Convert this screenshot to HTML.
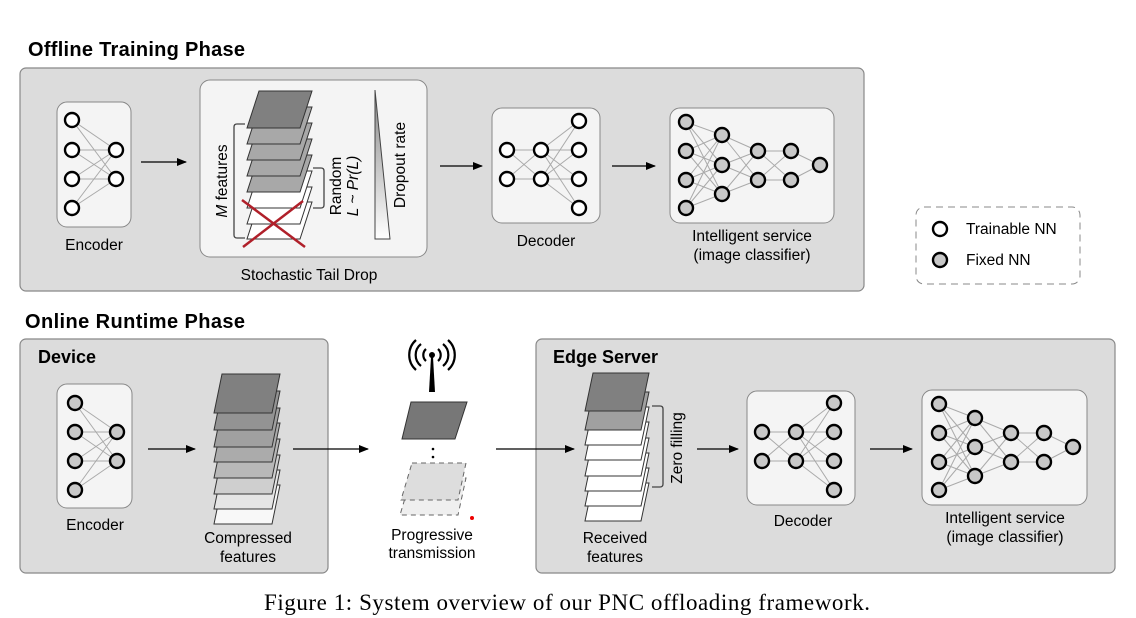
<!DOCTYPE html>
<html><head><meta charset="utf-8"><style>
html,body{margin:0;padding:0;background:#fff;}
svg{display:block;font-family:"Liberation Sans",Arial,sans-serif;}
</style></head><body>
<svg id="s" width="1136" height="618" viewBox="0 0 1136 618" xmlns="http://www.w3.org/2000/svg">
<defs>
<marker id="ah" markerWidth="10" markerHeight="8" refX="9" refY="4" orient="auto" markerUnits="userSpaceOnUse"><path d="M0,0 L10,4 L0,8 z" fill="#000"/></marker>
<linearGradient id="dg" x1="0" y1="0" x2="0" y2="1"><stop offset="0" stop-color="#888"/><stop offset="1" stop-color="#fff"/></linearGradient>
</defs>
<text x="28" y="56" font-size="20" font-weight="bold" textLength="217">Offline Training Phase</text>
<rect x="20" y="68" width="844" height="223" rx="6" fill="#dcdcdc" stroke="#888" stroke-width="1.2"/>
<rect x="57" y="102" width="74" height="125" rx="10" fill="#f4f4f4" stroke="#888"/>
<text x="94" y="250" font-size="15.5" text-anchor="middle">Encoder</text>
<line x1="141" y1="162" x2="186" y2="162" stroke="#000" stroke-width="1.3" marker-end="url(#ah)"/>
<rect x="200" y="80" width="227" height="177" rx="10" fill="#f4f4f4" stroke="#888"/>
<text x="309" y="280" font-size="15.5" text-anchor="middle">Stochastic Tail Drop</text>
<g id="std"></g>
<path d="M245,124 h-8 q-3,0 -3,3 v108 q0,3 3,3 h8" fill="none" stroke="#444" stroke-width="1.3"/>
<text transform="translate(227,181) rotate(-90)" font-size="15.5" text-anchor="middle"><tspan font-style="italic">M</tspan> features</text>
<path d="M313,168 h8 q3,0 3,3 v34 q0,3 -3,3 h-8" fill="none" stroke="#444" stroke-width="1.3"/>
<text transform="translate(341,186) rotate(-90)" font-size="15.5" text-anchor="middle">Random</text>
<text transform="translate(358,186) rotate(-90)" font-size="15.5" text-anchor="middle" font-style="italic">L ~ Pr(L)</text>
<polygon points="375,90 375,239 390,239" fill="url(#dg)" stroke="#444"/>
<text transform="translate(405,165) rotate(-90)" font-size="15.5" text-anchor="middle">Dropout rate</text>
<line x1="440" y1="166" x2="482" y2="166" stroke="#000" stroke-width="1.3" marker-end="url(#ah)"/>
<rect x="492" y="108" width="108" height="115" rx="10" fill="#f4f4f4" stroke="#888"/>
<text x="546" y="246" font-size="15.5" text-anchor="middle">Decoder</text>
<line x1="612" y1="166" x2="655" y2="166" stroke="#000" stroke-width="1.3" marker-end="url(#ah)"/>
<rect x="670" y="108" width="164" height="115" rx="10" fill="#f4f4f4" stroke="#888"/>
<text x="752" y="241" font-size="15.5" text-anchor="middle">Intelligent service</text>
<text x="752" y="260" font-size="15.5" text-anchor="middle">(image classifier)</text>
<rect x="916" y="207" width="164" height="77" rx="8" fill="#fff" stroke="#888" stroke-dasharray="7,5"/>
<circle cx="940" cy="229" r="7" fill="#fff" stroke="#000" stroke-width="2.4"/>
<circle cx="940" cy="260" r="7" fill="#c8c8c8" stroke="#000" stroke-width="2.4"/>
<text x="966" y="234" font-size="15.5">Trainable NN</text>
<text x="966" y="265" font-size="15.5">Fixed NN</text>

<text x="25" y="328" font-size="20" font-weight="bold" textLength="220">Online Runtime Phase</text>
<rect x="20" y="339" width="308" height="234" rx="6" fill="#dcdcdc" stroke="#888" stroke-width="1.2"/>
<text x="38" y="363" font-size="18" font-weight="bold">Device</text>
<rect x="57" y="384" width="75" height="124" rx="10" fill="#f4f4f4" stroke="#888"/>
<text x="95" y="530" font-size="15.5" text-anchor="middle">Encoder</text>
<line x1="148" y1="449" x2="195" y2="449" stroke="#000" stroke-width="1.3" marker-end="url(#ah)"/>
<text x="248" y="543" font-size="15.5" text-anchor="middle">Compressed</text>
<text x="248" y="562" font-size="15.5" text-anchor="middle">features</text>
<line x1="293" y1="449" x2="368" y2="449" stroke="#000" stroke-width="1.3" marker-end="url(#ah)"/>
<g fill="none" stroke="#000" stroke-width="2.2">
<path d="M426,349 a8,8 0 0 0 0,12"/><path d="M438,349 a8,8 0 0 1 0,12"/>
<path d="M421,344 a14,14 0 0 0 0,22"/><path d="M443,344 a14,14 0 0 1 0,22"/>
<path d="M416,340 a20,20 0 0 0 0,30"/><path d="M448,340 a20,20 0 0 1 0,30"/>
</g>
<circle cx="432" cy="355" r="3" fill="#000"/>
<polygon points="431,357 433,357 435,392 429,392" fill="#000"/>
<polygon points="411,402 467,402 455,439 402,439" fill="#777" stroke="#333"/>
<circle cx="433" cy="449" r="1.3" fill="#000"/><circle cx="433" cy="457" r="1.3" fill="#000"/><circle cx="433" cy="465" r="1.3" fill="#000"/>
<polygon points="411,478 466,478 458,515 400,515" fill="#efefef" stroke="#666" stroke-dasharray="5,4"/>
<polygon points="412,463 466,463 458,500 401,500" fill="#ddd" stroke="#666" stroke-dasharray="5,4"/>
<circle cx="472" cy="518" r="2" fill="#e00"/>
<text x="432" y="540" font-size="15.5" text-anchor="middle">Progressive</text>
<text x="432" y="558" font-size="15.5" text-anchor="middle">transmission</text>
<rect x="536" y="339" width="579" height="234" rx="6" fill="#dcdcdc" stroke="#888" stroke-width="1.2"/>
<text x="553" y="363" font-size="18" font-weight="bold">Edge Server</text>
<line x1="496" y1="449" x2="574" y2="449" stroke="#000" stroke-width="1.3" marker-end="url(#ah)"/>
<path d="M652,406 h8 q3,0 3,3 v75 q0,3 -3,3 h-8" fill="none" stroke="#444" stroke-width="1.3"/>
<text transform="translate(682,448) rotate(-90)" font-size="15.5" text-anchor="middle">Zero filling</text>
<text x="615" y="543" font-size="15.5" text-anchor="middle">Received</text>
<text x="615" y="562" font-size="15.5" text-anchor="middle">features</text>
<line x1="697" y1="449" x2="738" y2="449" stroke="#000" stroke-width="1.3" marker-end="url(#ah)"/>
<rect x="747" y="391" width="108" height="114" rx="10" fill="#f4f4f4" stroke="#888"/>
<text x="803" y="526" font-size="15.5" text-anchor="middle">Decoder</text>
<line x1="870" y1="449" x2="912" y2="449" stroke="#000" stroke-width="1.3" marker-end="url(#ah)"/>
<rect x="922" y="390" width="165" height="115" rx="10" fill="#f4f4f4" stroke="#888"/>
<text x="1005" y="523" font-size="15.5" text-anchor="middle">Intelligent service</text>
<text x="1005" y="542" font-size="15.5" text-anchor="middle">(image classifier)</text>
<g id="dyn"></g>
<text x="567" y="610" font-size="23" text-anchor="middle" font-family="Liberation Serif,serif" textLength="606">Figure 1: System overview of our PNC offloading framework.</text>
</svg>
<script>
var NS="http://www.w3.org/2000/svg",dyn=document.getElementById('dyn'),std=document.getElementById('std');
function el(p,t,a){var e=document.createElementNS(NS,t);for(var k in a)e.setAttribute(k,a[k]);p.appendChild(e);return e;}
function net(cols,fill){
 for(var i=0;i<cols.length-1;i++){var A=cols[i],B=cols[i+1];
  A.ys.forEach(function(y1){B.ys.forEach(function(y2){el(dyn,'line',{x1:A.x,y1:y1,x2:B.x,y2:y2,stroke:'#aaa','stroke-width':1});});});}
 cols.forEach(function(c){c.ys.forEach(function(y){el(dyn,'circle',{cx:c.x,cy:y,r:7,fill:fill,stroke:'#000','stroke-width':2.4});});});
}
net([{x:72,ys:[120,150,179,208]},{x:116,ys:[150,179]}],'#fff');
net([{x:507,ys:[150,179]},{x:541,ys:[150,179]},{x:579,ys:[121,150,179,208]}],'#fff');
net([{x:686,ys:[122,151,180,208]},{x:722,ys:[135,165,194]},{x:758,ys:[151,180]},{x:791,ys:[151,180]},{x:820,ys:[165]}],'#c8c8c8');
net([{x:75,ys:[403,432,461,490]},{x:117,ys:[432,461]}],'#c8c8c8');
net([{x:762,ys:[432,461]},{x:796,ys:[432,461]},{x:834,ys:[403,432,461,490]}],'#c8c8c8');
net([{x:939,ys:[404,433,462,490]},{x:975,ys:[418,447,476]},{x:1011,ys:[433,462]},{x:1044,ys:[433,462]},{x:1073,ys:[447]}],'#c8c8c8');
function stack(p,x,tops,cols,w,h,sk){
 for(var i=tops.length-1;i>=0;i--){var y=tops[i];
  el(p,'polygon',{points:[(x+sk)+','+y,(x+sk+w)+','+y,(x+w)+','+(y+h),x+','+(y+h)].join(' '),fill:cols[i],stroke:'#333','stroke-width':1});}
}
stack(std,247,[91,107,123,139,155,171,187,202],['#808080','#a8a8a8','#a8a8a8','#a8a8a8','#a8a8a8','#fff','#fff','#fff'],53,37,12);
el(std,'line',{x1:242,y1:200,x2:305,y2:247,stroke:'#b0202a','stroke-width':2.5});
el(std,'line',{x1:243,y1:247,x2:303,y2:201,stroke:'#b0202a','stroke-width':2.5});
stack(dyn,214,[374,391,408,423,439,455,470,485],['#808080','#939393','#a0a0a0','#ababab','#b8b8b8','#cfcfcf','#e5e5e5','#f8f8f8'],58,39,8);
stack(dyn,585,[373,392,407,422,438,453,468,483],['#808080','#a0a0a0','#fff','#fff','#fff','#fff','#fff','#fff'],56,38,8);
</script>
</body></html>
